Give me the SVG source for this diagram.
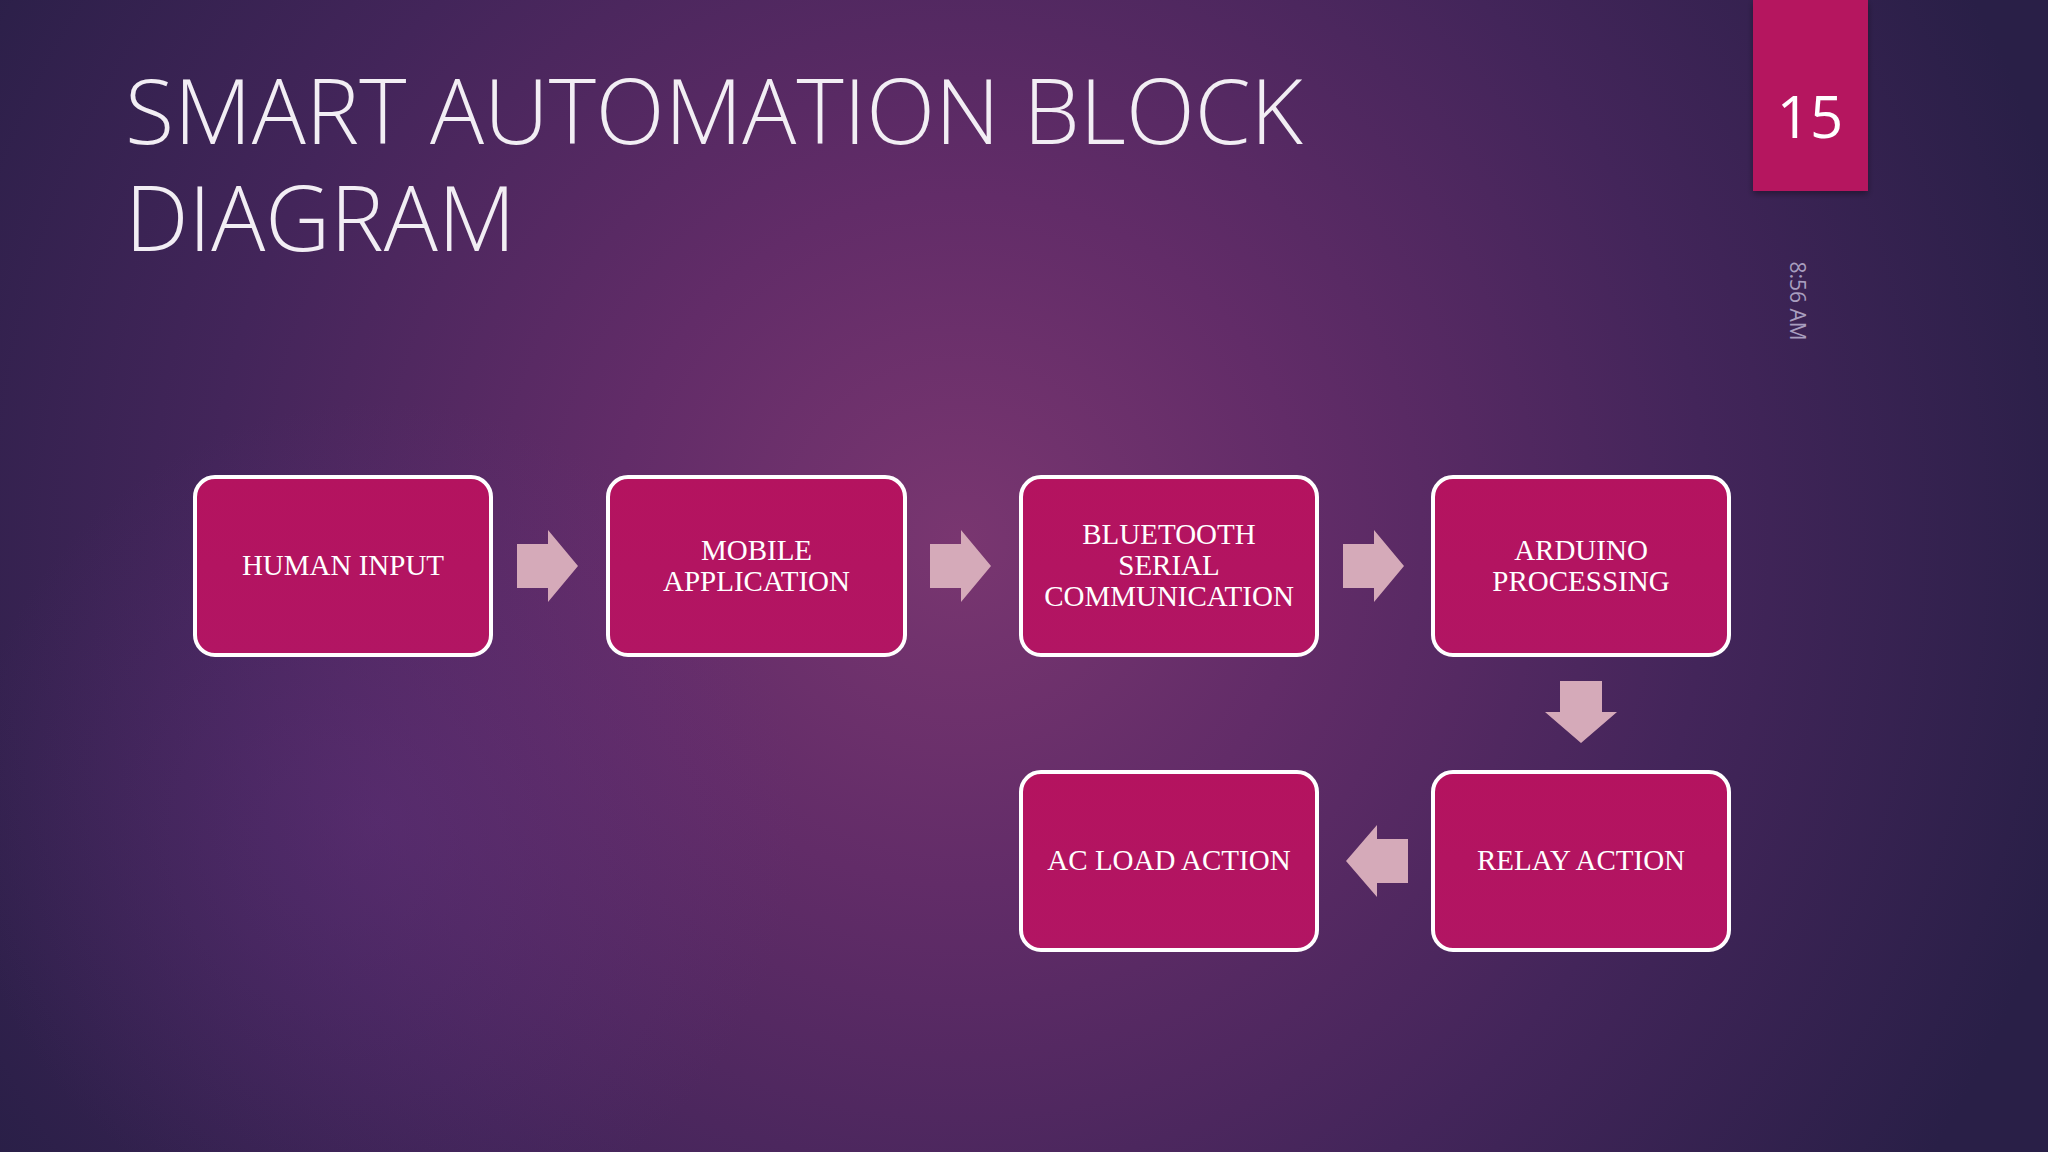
<svg xmlns="http://www.w3.org/2000/svg" width="2048" height="1152" viewBox="0 0 2048 1152">
<defs>
<radialGradient id="bg" gradientUnits="userSpaceOnUse" cx="960" cy="540" r="1150">
<stop offset="0" stop-color="#793670"/>
<stop offset="0.3" stop-color="#622c68"/>
<stop offset="0.65" stop-color="#43255a"/>
<stop offset="1" stop-color="#291f47"/>
</radialGradient>
<radialGradient id="glow" gradientUnits="userSpaceOnUse" cx="380" cy="820" r="420">
<stop offset="0" stop-color="#6a3488" stop-opacity="0.35"/>
<stop offset="1" stop-color="#6a3488" stop-opacity="0"/>
</radialGradient>
<linearGradient id="boxfill" x1="0" y1="0" x2="0" y2="1">
<stop offset="0" stop-color="#b4135f"/>
<stop offset="1" stop-color="#b21563"/>
</linearGradient>
<filter id="shadow" x="-10%" y="-10%" width="120%" height="130%">
<feDropShadow dx="0" dy="3" stdDeviation="3" flood-color="#000000" flood-opacity="0.35"/>
</filter>
</defs>
<style>
.box{fill:url(#boxfill);stroke:#ffffff;stroke-width:4}
.lbl{font-family:"Liberation Serif","Times New Roman",serif;font-size:29px;fill:#ffffff;text-anchor:middle}
.arrow{fill:#d5aab9}
.title{font-family:"Open Sans","Noto Sans",sans-serif;font-weight:300;font-size:90px;fill:#f2eef4}
</style>
<rect x="0" y="0" width="2048" height="1152" fill="url(#bg)"/>
<rect x="0" y="0" width="2048" height="1152" fill="url(#glow)"/>

<g id="title">
<text class="title" x="125" y="144">SMART AUTOMATION BLOCK<tspan x="125" dy="107">DIAGRAM</tspan></text>
</g>

<g id="page-number">
<rect x="1753" y="0" width="115" height="191" fill="#b5135f" filter="url(#shadow)"/>
<text x="1810" y="138" font-family="Open Sans, Noto Sans, sans-serif" font-size="58" fill="#ffffff" text-anchor="middle">15</text>
</g>

<g id="time">
<text transform="translate(1790,301) rotate(90)" font-family="Open Sans, Noto Sans, sans-serif" font-size="21" fill="#a89ebf" text-anchor="middle">8:56 AM</text>
</g>

<g id="connectors">
<polygon class="arrow" points="517,544 548,544 548,530 578,566 548,602 548,588 517,588"/>
<polygon class="arrow" points="930,544 961,544 961,530 991,566 961,602 961,588 930,588"/>
<polygon class="arrow" points="1343,544 1374,544 1374,530 1404,566 1374,602 1374,588 1343,588"/>
<polygon class="arrow" points="1560,681 1602,681 1602,712 1617,712 1581,743 1545,712 1560,712"/>
<polygon class="arrow" points="1408,839 1377,839 1377,825 1346,861 1377,897 1377,883 1408,883"/>
</g>

<g id="node-human-input">
<rect class="box" x="195" y="477" width="296" height="178" rx="20"/>
<text class="lbl" x="343" y="575">HUMAN INPUT</text>
</g>
<g id="node-mobile-application">
<rect class="box" x="608" y="477" width="297" height="178" rx="20"/>
<text class="lbl" x="756.5" y="560">MOBILE</text>
<text class="lbl" x="756.5" y="591">APPLICATION</text>
</g>
<g id="node-bluetooth">
<rect class="box" x="1021" y="477" width="296" height="178" rx="20"/>
<text class="lbl" x="1169" y="544">BLUETOOTH</text>
<text class="lbl" x="1169" y="575">SERIAL</text>
<text class="lbl" x="1169" y="606">COMMUNICATION</text>
</g>
<g id="node-arduino">
<rect class="box" x="1433" y="477" width="296" height="178" rx="20"/>
<text class="lbl" x="1581" y="560">ARDUINO</text>
<text class="lbl" x="1581" y="591">PROCESSING</text>
</g>
<g id="node-relay">
<rect class="box" x="1433" y="772" width="296" height="178" rx="20"/>
<text class="lbl" x="1581" y="870">RELAY ACTION</text>
</g>
<g id="node-ac-load">
<rect class="box" x="1021" y="772" width="296" height="178" rx="20"/>
<text class="lbl" x="1169" y="870">AC LOAD ACTION</text>
</g>
</svg>
